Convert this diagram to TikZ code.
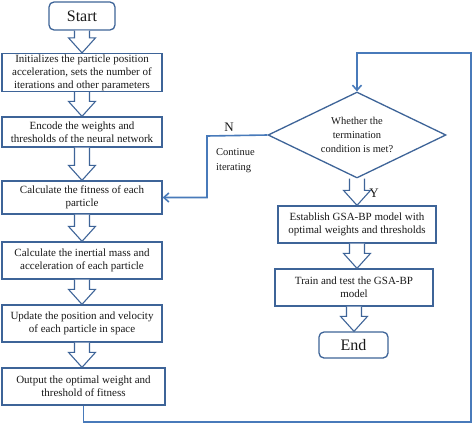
\documentclass[tikz,border=0pt]{standalone}
\usepackage{fontspec}
\setmainfont{Liberation Serif}
\usetikzlibrary{shapes.geometric,arrows.meta,calc}
\definecolor{boxblue}{RGB}{62,100,152}
\definecolor{lineblue}{RGB}{72,122,186}
\definecolor{txt}{RGB}{25,25,25}
\begin{document}
\begin{tikzpicture}[x=1pt,y=-1pt,
  box/.style={draw=boxblue, line width=1.3pt, fill=white, align=center, text=txt,
    font=\fontsize{11}{13}\selectfont, inner sep=1pt},
  term/.style={box, rounded corners=5pt, font=\fontsize{16}{18}\selectfont},
  barrow/.style={draw=boxblue, line width=1.1pt, fill=white,
    to path={let \p1=(\tikztostart), \p2=(\tikztotarget) in
      (\x1-7.5pt,\y1) -- (\x1-7.5pt,\y2+15pt) -- (\x1-13.5pt,\y2+15pt) -- (\x1,\y2)
      -- (\x1+13.5pt,\y2+15pt) -- (\x1+7.5pt,\y2+15pt) -- (\x1+7.5pt,\y1)}},
  flow/.style={draw=lineblue, line width=1.6pt, -{Straight Barb[length=5pt,width=9pt]}},
  lab/.style={text=txt, inner sep=0pt},
]
\fill[white] (0,0) rectangle (474,426);
\useasboundingbox (0,0) rectangle (474,426);

% left column
\node[term, minimum width=66pt, minimum height=28pt] (start) at (82,16) {Start};
\node[box, minimum width=160pt, minimum height=37pt] (init) at (82,72.5)
  {Initializes the particle position\\acceleration, sets the number of\\iterations and other parameters};
\node[box, minimum width=160pt, minimum height=30pt] (encode) at (82,132)
  {Encode the weights and\\thresholds of the neural network};
\node[box, minimum width=160pt, minimum height=33pt] (fitness) at (82,197.5)
  {Calculate the fitness of each\\particle};
\node[box, minimum width=160pt, minimum height=37pt] (inertia) at (82,260.5)
  {Calculate the inertial mass and\\acceleration of each particle};
\node[box, minimum width=160pt, minimum height=37pt] (update) at (82,323.5)
  {Update the position and velocity\\of each particle in space};
\node[box, minimum width=163pt, minimum height=37pt] (output) at (83.5,386.5)
  {Output the optimal weight and\\threshold of fitness};

% right column
\node[diamond, aspect=2, draw=boxblue, line width=1.3pt, fill=white, inner sep=0pt,
  minimum width=178pt, minimum height=86pt, align=center, text=txt,
  font=\fontsize{10.5}{14}\selectfont] (dia) at (357,135)
  {Whether the\\termination\\condition is met?};
\node[box, minimum width=158pt, minimum height=37pt] (estab) at (357,224.5)
  {Establish GSA-BP model with\\optimal weights and thresholds};
\node[box, minimum width=158pt, minimum height=37pt] (train) at (354,287.5)
  {Train and test the GSA-BP\\model};
\node[term, minimum width=69pt, minimum height=26pt] (end) at (353.5,345) {End};

% block arrows
\draw[barrow] (start.south) to (init.north);
\draw[barrow] (init.south) to (encode.north);
\draw[barrow] (encode.south) to (fitness.north);
\draw[barrow] (fitness.south) to (inertia.north);
\draw[barrow] (inertia.south) to (update.north);
\draw[barrow] (update.south) to (output.north);
\draw[barrow] (dia.south) to (estab.north);
\draw[barrow] (estab.south) to (train.north);
\draw[barrow] (train.south) to (end.north);

% loop connectors
\coordinate (c2) at (471,422);
\coordinate (c4) at (357,53);
\draw[flow] (output.south) |- (c2) |- (c4) -- (dia.north);
\coordinate (nturn) at (207,136);
\draw[flow] (dia.west) -- (nturn) |- (fitness.east);

% labels
\node[lab, font=\fontsize{13}{13}\selectfont] (nlab) at (229,127) {N};
\node[lab, font=\fontsize{13}{13}\selectfont] (ylab) at (374,193) {Y};
\node[lab, anchor=north west, align=left, font=\fontsize{10.5}{15}\selectfont] (cont) at (216,148)
  {Continue\\iterating};
\end{tikzpicture}
\end{document}
